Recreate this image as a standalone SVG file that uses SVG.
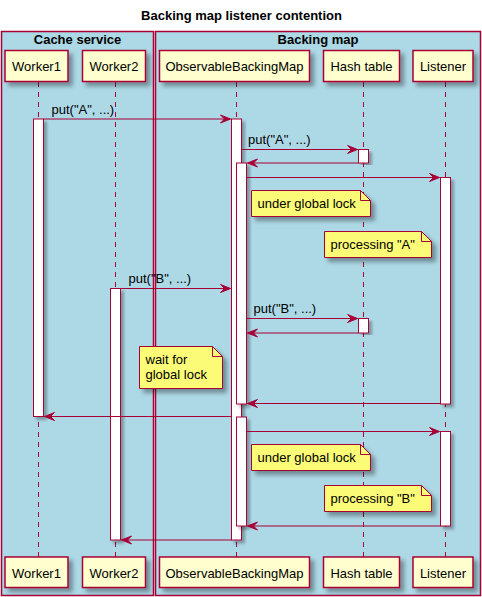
<svg xmlns="http://www.w3.org/2000/svg" width="482" height="597" viewBox="0 0 482 597">
<style>
text{font-family:"Liberation Sans",Arial,sans-serif;font-size:13px;fill:#000}
.b{font-weight:bold}
.frame{fill:#ADD8E6;stroke:#A80036;stroke-width:1.5}
.p{fill:#FEFECE;stroke:#A80036;stroke-width:1.5}
.life{stroke:#A80036;stroke-width:1;stroke-dasharray:5,5;fill:none}
.act{fill:#FFFFFF;stroke:#A80036;stroke-width:1}
.msg{stroke:#A80036;stroke-width:1;fill:none;marker-end:url(#ah)}
.note{fill:#FBFB77;stroke:#A80036;stroke-width:1}
.fold{fill:none;stroke:#A80036;stroke-width:1}
</style>
<defs>
<marker id="ah" markerUnits="userSpaceOnUse" markerWidth="11" markerHeight="9" refX="10" refY="4" orient="auto" overflow="visible">
<path d="M0,0 L10,4 L0,8 L4,4 Z" fill="#A80036" stroke="#A80036" stroke-width="1"/>
</marker>
<filter id="sh" x="-20%" y="-20%" width="150%" height="160%">
<feGaussianBlur in="SourceAlpha" stdDeviation="2" result="bl"/>
<feOffset in="bl" dx="4" dy="4" result="of"/>
<feFlood flood-color="#000" flood-opacity="0.35"/>
<feComposite in2="of" operator="in" result="s"/>
<feMerge><feMergeNode in="s"/><feMergeNode in="SourceGraphic"/></feMerge>
</filter>
<filter id="sha" x="-50%" y="-5%" width="200%" height="115%">
<feGaussianBlur in="SourceAlpha" stdDeviation="1.5" result="bl"/>
<feOffset in="bl" dx="3" dy="3" result="of"/>
<feFlood flood-color="#000" flood-opacity="0.3"/>
<feComposite in2="of" operator="in" result="s"/>
<feMerge><feMergeNode in="s"/><feMergeNode in="SourceGraphic"/></feMerge>
</filter>
</defs>
<rect width="482" height="597" fill="#FFFFFF"/>
<text class="b" x="241.5" y="20" text-anchor="middle">Backing map listener contention</text>
<g id="box-cache-service">
<rect class="frame" x="1.5" y="31.5" width="152" height="564"/>
<text class="b" x="77.5" y="44" text-anchor="middle">Cache service</text>
</g>
<g id="box-backing-map">
<rect class="frame" x="155.5" y="31.5" width="325" height="564"/>
<text class="b" x="318" y="44" text-anchor="middle">Backing map</text>
</g>
<g id="lifelines">
<line class="life" x1="38.5" y1="82" x2="38.5" y2="557"/>
<line class="life" x1="115.5" y1="82" x2="115.5" y2="557"/>
<line class="life" x1="236.5" y1="82" x2="236.5" y2="557"/>
<line class="life" x1="363.5" y1="82" x2="363.5" y2="557"/>
<line class="life" x1="445.5" y1="82" x2="445.5" y2="557"/>
</g>
<g id="activations">
<rect class="act" filter="url(#sha)" x="33.5" y="119" width="10" height="297.5"/>
<rect class="act" filter="url(#sha)" x="110.5" y="288.5" width="10" height="251.5"/>
<rect class="act" filter="url(#sha)" x="231.5" y="119" width="10" height="421"/>
<rect class="act" filter="url(#sha)" x="236.5" y="163" width="10" height="241"/>
<rect class="act" filter="url(#sha)" x="236.5" y="417" width="10" height="109"/>
<rect class="act" filter="url(#sha)" x="358.5" y="149.5" width="10" height="13.5"/>
<rect class="act" filter="url(#sha)" x="358.5" y="318.5" width="10" height="14.5"/>
<rect class="act" filter="url(#sha)" x="440.5" y="177.5" width="10" height="226.5"/>
<rect class="act" filter="url(#sha)" x="440.5" y="431.5" width="10" height="94.5"/>
</g>
<g id="connectors">
<line class="msg" x1="43.5" y1="119" x2="230.5" y2="119"/>
<text x="51.5" y="113.5">put("A", ...)</text>
<line class="msg" x1="241.5" y1="149.5" x2="357.5" y2="149.5"/>
<text x="248" y="144">put("A", ...)</text>
<line class="msg" x1="358.5" y1="163" x2="247.5" y2="163"/>
<line class="msg" x1="246.5" y1="177.5" x2="439.5" y2="177.5"/>
<line class="msg" x1="120.5" y1="288.5" x2="230.5" y2="288.5"/>
<text x="128.5" y="283">put("B", ...)</text>
<line class="msg" x1="246.5" y1="318.5" x2="357.5" y2="318.5"/>
<text x="253.5" y="313">put("B", ...)</text>
<line class="msg" x1="358.5" y1="333" x2="247.5" y2="333"/>
<line class="msg" x1="440.5" y1="403.5" x2="247.5" y2="403.5"/>
<line class="msg" x1="231.5" y1="416.5" x2="44.5" y2="416.5"/>
<line class="msg" x1="246.5" y1="431.5" x2="439.5" y2="431.5"/>
<line class="msg" x1="440.5" y1="526" x2="247.5" y2="526"/>
<line class="msg" x1="231.5" y1="540" x2="121.5" y2="540"/>
</g>
<g id="note-under-global-lock-1">
<path class="note" filter="url(#sh)" d="M251.5,190.5 L251.5,216.5 L370.5,216.5 L370.5,200.5 L360.5,190.5 Z"/>
<path class="fold" d="M360.5,190.5 L360.5,200.5 L370.5,200.5"/>
<text x="257.5" y="207.5">under global lock</text>
</g>
<g id="note-processing-a">
<path class="note" filter="url(#sh)" d="M324.5,231.5 L324.5,257.5 L431.5,257.5 L431.5,241.5 L421.5,231.5 Z"/>
<path class="fold" d="M421.5,231.5 L421.5,241.5 L431.5,241.5"/>
<text x="330.5" y="248.5">processing "A"</text>
</g>
<g id="note-wait-for-global-lock">
<path class="note" filter="url(#sh)" d="M139.5,346.5 L139.5,388.5 L222.5,388.5 L222.5,356.5 L212.5,346.5 Z"/>
<path class="fold" d="M212.5,346.5 L212.5,356.5 L222.5,356.5"/>
<text x="145.5" y="363.5">wait for</text>
<text x="145.5" y="378.5">global lock</text>
</g>
<g id="note-under-global-lock-2">
<path class="note" filter="url(#sh)" d="M251.5,444.5 L251.5,470.5 L370.5,470.5 L370.5,454.5 L360.5,444.5 Z"/>
<path class="fold" d="M360.5,444.5 L360.5,454.5 L370.5,454.5"/>
<text x="257.5" y="461.5">under global lock</text>
</g>
<g id="note-processing-b">
<path class="note" filter="url(#sh)" d="M324.5,485.5 L324.5,511.5 L431.5,511.5 L431.5,495.5 L421.5,485.5 Z"/>
<path class="fold" d="M421.5,485.5 L421.5,495.5 L431.5,495.5"/>
<text x="330.5" y="502.5">processing "B"</text>
</g>
<g id="worker1">
<rect class="p" filter="url(#sh)" x="5" y="50.5" width="63" height="31"/>
<text x="36.5" y="71" text-anchor="middle">Worker1</text>
<rect class="p" filter="url(#sh)" x="5" y="557" width="63" height="30.5"/>
<text x="36.5" y="577.5" text-anchor="middle">Worker1</text>
</g>
<g id="worker2">
<rect class="p" filter="url(#sh)" x="82.5" y="50.5" width="63" height="31"/>
<text x="114" y="71" text-anchor="middle">Worker2</text>
<rect class="p" filter="url(#sh)" x="82.5" y="557" width="63" height="30.5"/>
<text x="114" y="577.5" text-anchor="middle">Worker2</text>
</g>
<g id="observablebackingmap">
<rect class="p" filter="url(#sh)" x="159.5" y="50.5" width="150" height="31"/>
<text x="234.5" y="71" text-anchor="middle">ObservableBackingMap</text>
<rect class="p" filter="url(#sh)" x="159.5" y="557" width="150" height="30.5"/>
<text x="234.5" y="577.5" text-anchor="middle">ObservableBackingMap</text>
</g>
<g id="hash-table">
<rect class="p" filter="url(#sh)" x="323.5" y="50.5" width="76" height="31"/>
<text x="361.5" y="71" text-anchor="middle">Hash table</text>
<rect class="p" filter="url(#sh)" x="323.5" y="557" width="76" height="30.5"/>
<text x="361.5" y="577.5" text-anchor="middle">Hash table</text>
</g>
<g id="listener">
<rect class="p" filter="url(#sh)" x="413" y="50.5" width="60" height="31"/>
<text x="443" y="71" text-anchor="middle">Listener</text>
<rect class="p" filter="url(#sh)" x="413" y="557" width="60" height="30.5"/>
<text x="443" y="577.5" text-anchor="middle">Listener</text>
</g>
</svg>
